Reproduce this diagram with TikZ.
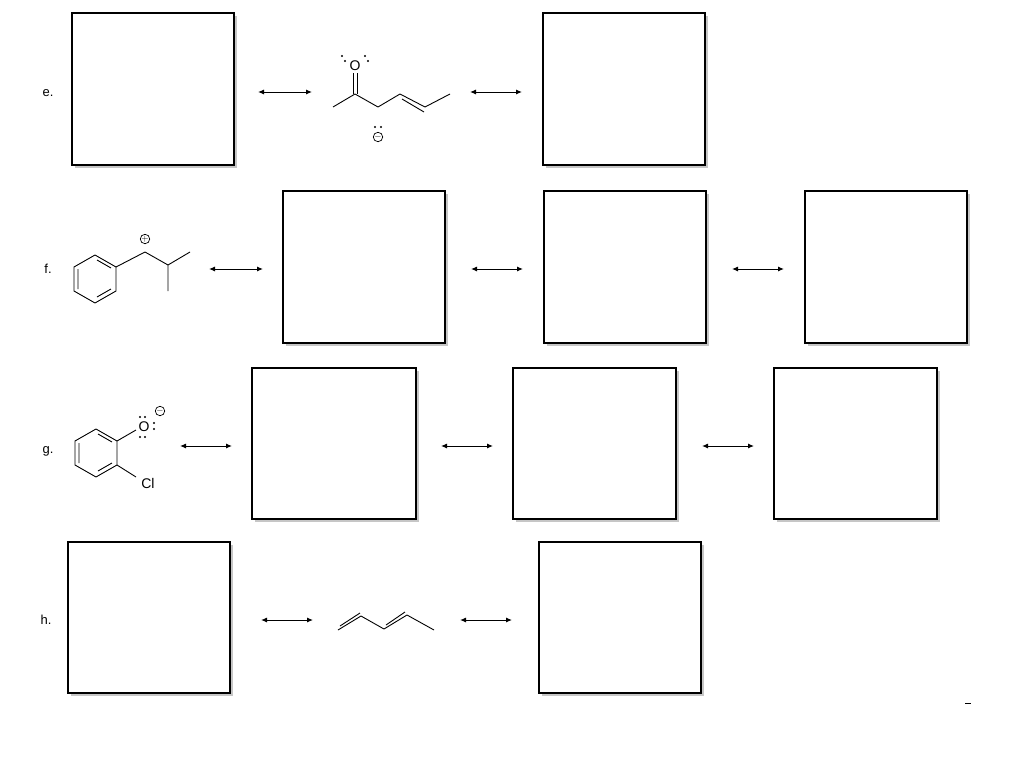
\documentclass[tikz,border=0pt]{standalone}
\usepackage{fontspec}
\setmainfont{Liberation Sans}
\begin{document}
\begin{tikzpicture}[x=1pt,y=-1pt,
  ansbox/.style={draw=black,line width=1.1pt},
  res/.style={{Latex[length=6pt,width=5pt]}-{Latex[length=6pt,width=5pt]},line width=1pt},
  bond/.style={line width=0.9pt,line join=round},
  lbl/.style={font=\fontsize{13}{14}\selectfont},
  atom/.style={font=\fontsize{14}{14}\selectfont,inner sep=0.5pt,fill=white},
  chg/.style={circle,draw,line width=0.7pt,inner sep=0pt,minimum size=9pt,font=\fontsize{9}{9}\selectfont}]
\usetikzlibrary{arrows.meta}
\useasboundingbox (0,0) rectangle (1024,779);
% boxes
\foreach \n/\a/\b/\c/\d in {e1/72/13/234/165,e2/543/13/705/165,f1/283/191/445/343,f2/544/191/706/343,f3/805/191/967/343,g1/252/368/416/519,g2/513/368/676/519,g3/774/368/937/519,h1/68/542/230/693,h2/539/542/701/693}{
  \fill[gray!45] (\a+3,\b+3) rectangle (\c+3,\d+3);
  \draw[ansbox,fill=white] (\a,\b) rectangle (\c,\d);
  \coordinate (\n) at (\a,\b);
}
% labels
\node[lbl] (le) at (48,93) {e.};
\node[lbl] (lf) at (48,269) {f.};
\node[lbl] (lg) at (48,451) {g.};
\node[lbl] (lh) at (46,620) {h.};
% arrows
\foreach \x/\y/\z in {258/92/312,470/92/522,209/269/263,471/269/523,732/269/784,180/446/232,441/446/493,702/446/754,261/620/313,460/620/512}{
  \coordinate (a1) at (\x,\y); \coordinate (a2) at (\z,\y);
  \draw[res] (a1) -- (a2);}
% molecule e
\draw[bond] (333,107) -- (355,94) -- (378,107) -- (400,94) -- (425,107) -- (450,94);
\draw[bond] (353,94) -- (353,73) (357,94) -- (357,73);
\draw[bond] (402,99) -- (424,112);
\node[atom] (Oe) at (355,66) {O};
\fill (342,56) circle (1.1) (345,61) circle (1.1) (365,56) circle (1.1) (368,61) circle (1.1);
\node[chg] (me) at (378,137) {$-$};
\fill (375,127) circle (1.1) (381,127) circle (1.1);
% benzene rings
\foreach \cx/\cy/\m in {95/279/f,96/453/g}{
  \draw[bond] (\cx,\cy-24) -- (\cx+21,\cy-12) -- (\cx+21,\cy+12) -- (\cx,\cy+24) -- (\cx-21,\cy+12) -- (\cx-21,\cy-12) -- cycle;
  \draw[bond] (\cx+2,\cy-19) -- (\cx+16,\cy-11) (\cx+16,\cy+10) -- (\cx+2,\cy+18) (\cx-17,\cy+10) -- (\cx-17,\cy-10);
}
% molecule f
\draw[bond] (116,267) -- (145,252) -- (168,265) -- (190,252) (168,265) -- (168,291);
\node[chg] (pf) at (145,239) {$+$};
% molecule g
\draw[bond] (117,441) -- (136,430) (117,465) -- (136,477);
\node[atom] (Og) at (144,427) {O};
\node[atom] (Cl) at (148,483) {Cl};
\fill (140,417) circle (1.1) (145,417) circle (1.1) (154,423) circle (1.1) (154,429) circle (1.1) (140,437) circle (1.1) (145,437) circle (1.1);
\node[chg] (mg) at (160,411) {$-$};
% molecule h
\draw[bond] (338,630) -- (361,616) -- (384,629) -- (407,615) -- (434,630);
\draw[bond] (340,626) -- (360,613) (386,625) -- (405,612);
\draw[line width=1pt] (965,703) -- (971,703);
\end{tikzpicture}
\end{document}
